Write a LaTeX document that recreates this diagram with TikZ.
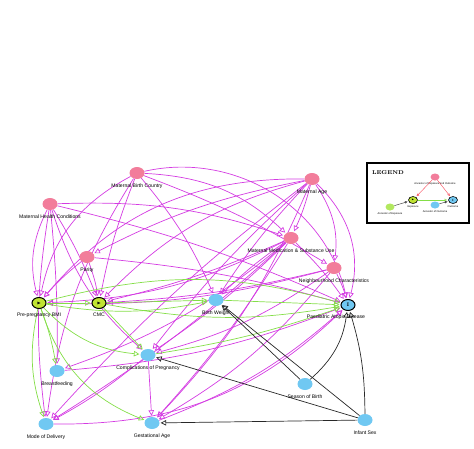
\documentclass[tikz,border=0pt]{standalone}
\usepackage{amsmath,amssymb}
\usepackage{fontspec}
\setsansfont{Liberation Sans}
\usepackage{tikz}
\usetikzlibrary{shapes.geometric,arrows.meta,positioning,backgrounds}
\definecolor{ancpink}{RGB}{242,125,155}
\definecolor{outblue}{RGB}{112,200,242}
\definecolor{expgreen}{RGB}{192,228,50}
\definecolor{aexgreen}{RGB}{178,232,95}
\definecolor{edgemag}{RGB}{212,60,226}
\definecolor{edgegrn}{RGB}{132,222,72}
\definecolor{edgeblk}{RGB}{40,40,40}

\begin{document}
\begin{tikzpicture}[x=1pt, y=-1pt, shorten >=1pt,
		anc_style/.style={ellipse,fill=ancpink,minimum width=15pt,minimum height=12pt,inner sep=0pt},
		out_style/.style={ellipse,fill=outblue,minimum width=15pt,minimum height=12pt,inner sep=0pt},
		exp_style/.style={ellipse,draw=black,line width=1pt,fill=expgreen,minimum width=14pt,minimum height=11pt,inner sep=0pt,font=\fontsize{4}{4}\selectfont},
		res_style/.style={ellipse,draw=black,line width=1pt,fill=outblue,minimum width=14pt,minimum height=11pt,inner sep=0pt,font=\fontsize{5}{5}\selectfont\bfseries},
		lbl_style/.style={inner sep=0pt,font=\fontsize{5.1}{6}\selectfont\sffamily},
		pink_edge/.style={draw=edgemag,line width=0.7pt,-{Triangle[open,length=5.5pt,width=5.5pt]}},
		green_edge/.style={draw=edgegrn,line width=0.7pt,-{Triangle[open,length=5.5pt,width=5.5pt]}},
		black_edge/.style={draw=edgeblk,line width=0.7pt,-{Triangle[open,length=5.5pt,width=5.5pt]}},
		key_style/.style={ellipse,minimum width=9pt,minimum height=7pt,inner sep=0pt},
		key_lbl/.style={inner sep=0pt,font=\fontsize{2.6}{3}\selectfont\sffamily},
		key_edge/.style={line width=0.4pt,-{Triangle[open,length=2.5pt,width=2.5pt]}}]

		\useasboundingbox (0,0) rectangle (474,448);

		% ancestors of exposure and outcome
		\node[anc_style] (mbc) at (137,173) {};
		\node[anc_style] (mhc) at (50,204) {};
		\node[anc_style] (mage) at (312,179) {};
		\node[anc_style] (mmed) at (291,238) {};
		\node[anc_style] (nbh) at (334,268) {};
		\node[anc_style] (par) at (87,257) {};
		% exposures and outcome
		\node[exp_style] (bmi) at (39,303) {$\blacktriangleright$};
		\node[exp_style] (cmc) at (99,303) {$\blacktriangleright$};
		\node[res_style] (pad) at (348,305) {I};
		% ancestors of outcome
		\node[out_style] (bw) at (216,300) {};
		\node[out_style] (cop) at (148,355) {};
		\node[out_style] (bf) at (57,371) {};
		\node[out_style] (sob) at (305,384) {};
		\node[out_style] (mod) at (46,424) {};
		\node[out_style] (ga) at (152,423) {};
		\node[out_style] (isx) at (365,420) {};

		\node[lbl_style, below=4pt of mbc] (mbc_l) {Maternal Birth Country};
		\node[lbl_style, below=4pt of mhc] (mhc_l) {Maternal Health Conditions};
		\node[lbl_style, below=4pt of mage] (mage_l) {Maternal Age};
		\node[lbl_style, below=4pt of mmed] (mmed_l) {Maternal Medication \& Substance Use};
		\node[lbl_style, below=4pt of nbh] (nbh_l) {Neighbourhood Characteristics};
		\node[lbl_style, below=4pt of par] (par_l) {Parity};
		\node[lbl_style, below=4pt of bmi] (bmi_l) {Pre-pregnancy BMI};
		\node[lbl_style, below=4pt of cmc] (cmc_l) {CMC};
		\node[lbl_style, below=4pt of pad, xshift=-12pt] (pad_l) {Paediatric Atopic Disease};
		\node[lbl_style, below=4pt of bw] (bw_l) {Birth Weight};
		\node[lbl_style, below=4pt of cop] (cop_l) {Complications of Pregnancy};
		\node[lbl_style, below=4pt of bf] (bf_l) {Breastfeeding};
		\node[lbl_style, below=4pt of sob] (sob_l) {Season of Birth};
		\node[lbl_style, below=4pt of mod] (mod_l) {Mode of Delivery};
		\node[lbl_style, below=4pt of ga] (ga_l) {Gestational Age};
		\node[lbl_style, below=4pt of isx] (isx_l) {Infant Sex};

		\begin{scope}[on background layer]
		% biasing paths
		\draw[pink_edge]  (mbc) edge[bend right=25] (bmi);
		\draw[pink_edge]  (mbc) edge[bend right=5] (cmc);
		\draw[pink_edge]  (mbc) edge[bend left=8] (bw);
		\draw[pink_edge]  (mbc) edge[bend left=20] (mmed);
		\draw[pink_edge]  (mbc) edge[bend left=45] (pad);
		\draw[pink_edge]  (mbc) edge[bend left=5] (nbh);
		\draw[pink_edge]  (mbc) edge[bend right=12] (mod);
		\draw[pink_edge]  (mhc) edge[bend right=20] (bmi);
		\draw[pink_edge]  (mhc) edge[bend left=5] (cmc);
		\draw[pink_edge]  (mhc) edge[bend left=3] (bf);
		\draw[pink_edge]  (mhc) edge[bend right=8] (mod);
		\draw[pink_edge]  (mhc) edge[bend left=10] (mmed);
		\draw[pink_edge]  (mhc) edge[bend left=5] (pad);
		\draw[pink_edge]  (mhc) edge[bend right=15] (cop);
		\draw[pink_edge]  (mage) edge[bend left=5] (mmed);
		\draw[pink_edge]  (mage) edge[bend left=20] (nbh);
		\draw[pink_edge]  (mage) edge[bend left=30] (pad);
		\draw[pink_edge]  (mage) edge[bend right=8] (par);
		\draw[pink_edge]  (mage) edge[bend right=25] (bmi);
		\draw[pink_edge]  (mage) edge[bend right=15] (cmc);
		\draw[pink_edge]  (mage) edge[bend right=5] (bw);
		\draw[pink_edge]  (mage) edge[bend right=5] (cop);
		\draw[pink_edge]  (mage) edge[bend right=5] (mod);
		\draw[pink_edge]  (mage) edge[bend left=10] (ga);
		\draw[pink_edge]  (mmed) edge[bend left=5] (pad);
		\draw[pink_edge]  (mmed) edge[bend left=12] (bmi);
		\draw[pink_edge]  (mmed) edge[bend left=5] (cmc);
		\draw[pink_edge]  (mmed) edge[bend left=5] (cop);
		\draw[pink_edge]  (mmed) edge[bend left=5] (ga);
		\draw[pink_edge]  (mmed) edge[bend left=5] (mod);
		\draw[pink_edge]  (mmed) edge[bend left=10] (bf);
		\draw[pink_edge]  (mmed) edge[bend right=5] (bw);
		\draw[pink_edge]  (nbh) edge[bend left=5] (pad);
		\draw[pink_edge]  (nbh) edge[bend left=8] (bmi);
		\draw[pink_edge]  (nbh) edge[bend left=5] (cmc);
		\draw[pink_edge]  (nbh) edge[bend left=10] (cop);
		\draw[pink_edge]  (nbh) edge[bend left=10] (ga);
		\draw[pink_edge]  (par) edge[bend left=5] (cmc);
		\draw[pink_edge]  (par) edge[bend right=5] (bmi);
		\draw[pink_edge]  (par) edge[bend left=5] (pad);
		\draw[pink_edge]  (bf) edge[bend right=8] (pad);
		\draw[pink_edge]  (mod) edge[bend right=22] (pad);
		\draw[pink_edge]  (cop) edge (ga);
		\draw[pink_edge]  (cop) edge[bend left=5] (mod);
		\draw[pink_edge]  (ga) edge[bend right=10] (pad);
		% causal paths
		\draw[green_edge]  (bmi) edge (cmc);
		\draw[green_edge]  (bmi) edge[bend left=15] (pad);
		\draw[green_edge]  (cmc) edge[bend right=10] (pad);
		\draw[green_edge]  (cmc) edge (bw);
		\draw[green_edge]  (bmi) edge[bend right=10] (bw);
		\draw[green_edge]  (bmi) edge[bend right=20] (cop);
		\draw[green_edge]  (cmc) edge (cop);
		\draw[green_edge]  (bmi) edge[bend left=5] (bf);
		\draw[green_edge]  (bmi) edge[bend right=15] (mod);
		\draw[green_edge]  (bmi) edge[bend right=25] (ga);
		\draw[green_edge]  (cop) edge[bend right=5] (pad);
		\draw[green_edge]  (bw) edge (pad);
		% other
		\draw[black_edge]  (sob) edge (bw);
		\draw[black_edge]  (isx) edge (bw);
		\draw[black_edge]  (sob) edge[bend right=20] (pad);
		\draw[black_edge]  (isx) edge[bend right=8] (pad);
		\draw[black_edge]  (isx) edge (cop);
		\draw[black_edge]  (isx) edge (ga);
		\end{scope}

		% legend
		\draw[line width=1.2pt] (367,163) rectangle (469,223);
		\node[inner sep=0pt,font=\fontsize{5.5}{6}\selectfont\bfseries] (key_t) at (388,173) {LEGEND};
		\node[key_style,fill=ancpink] (k_anc) at (435,177) {};
		\node[key_style,draw=black,line width=0.6pt,fill=expgreen,font=\fontsize{2.5}{2.5}\selectfont] (k_exp) at (413,200) {$\blacktriangleright$};
		\node[key_style,draw=black,line width=0.6pt,fill=outblue,font=\fontsize{3}{3}\selectfont\bfseries] (k_out) at (453,200) {I};
		\node[key_style,fill=aexgreen] (k_aex) at (390,207) {};
		\node[key_style,fill=outblue] (k_aou) at (435,205) {};
		\node[key_lbl, below=1.5pt of k_anc] (k_anc_l) {Ancestor of Exposure and Outcome};
		\node[key_lbl, below=1.5pt of k_exp] (k_exp_l) {Exposure};
		\node[key_lbl, below=1.5pt of k_out] (k_out_l) {Outcome};
		\node[key_lbl, below=1.5pt of k_aex] (k_aex_l) {Ancestor of Exposure};
		\node[key_lbl, below=1.5pt of k_aou] (k_aou_l) {Ancestor of Outcome};
		\draw[key_edge,draw=red!45!ancpink]  (k_anc) edge (k_exp);
		\draw[key_edge,draw=red!45!ancpink]  (k_anc) edge (k_out);
		\draw[key_edge,draw=edgegrn]  (k_exp) edge (k_out);
		\draw[key_edge,draw=edgeblk]  (k_aex) edge (k_exp);
		\draw[key_edge,draw=edgeblk]  (k_aou) edge (k_out);
\end{tikzpicture}
\end{document}
